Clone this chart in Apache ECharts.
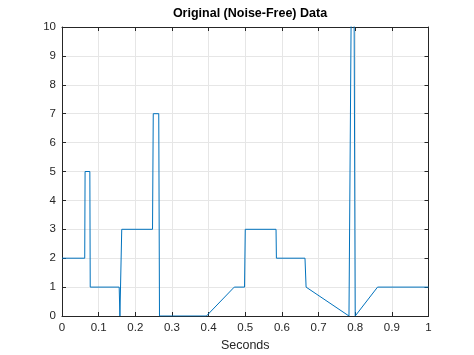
<!DOCTYPE html>
<html><head><meta charset="utf-8">
<script src="https://cdn.jsdelivr.net/npm/echarts@6/dist/echarts.min.js"></script>
<style>html,body{margin:0;padding:0;background:#fff}#c{width:474px;height:355px}</style>
</head><body><div id="c"></div>
<script>
const xValues = [0, 0.062, 0.063, 0.076, 0.077, 0.156, 0.158, 0.161, 0.163, 0.247, 0.249, 0.264, 0.266, 0.394, 0.470, 0.498, 0.500, 0.584, 0.585, 0.663, 0.666, 0.783, 0.789, 0.797, 0.800, 0.861, 1.0];
const yValues = [2, 2, 5, 5, 1, 1, 0, 0, 3, 3, 7, 7, 0, 0, 1, 1, 3, 3, 2, 2, 1, 0, 10.5, 10.5, 0, 1, 1];
const xTicks = [0, 0.1, 0.2, 0.3, 0.4, 0.5, 0.6, 0.7, 0.8, 0.9, 1];
const yTicks = [0, 1, 2, 3, 4, 5, 6, 7, 8, 9, 10];
const titleText = 'Original (Noise-Free) Data';
const xLabel = 'Seconds';

const font = 'Liberation Sans, Arial, Helvetica, sans-serif';
const axisCol = '#262626';
const chart = echarts.init(document.getElementById('c'), null, {renderer: 'canvas'});
const fmt = v => String(Math.round(v * 10) / 10);
const baseX = {
  type: 'value', min: 0, max: 1, interval: 0.1,
  axisLine: {show: true, onZero: false, lineStyle: {color: axisCol, width: 1}},
  axisTick: {show: true, inside: true, length: 4, lineStyle: {color: axisCol}},
  splitLine: {show: false}
};
const baseY = {
  type: 'value', min: 0, max: 10, interval: 1,
  axisLine: {show: true, onZero: false, lineStyle: {color: axisCol, width: 1}},
  axisTick: {show: true, inside: true, length: 4, lineStyle: {color: axisCol}},
  splitLine: {show: false}
};
chart.setOption({
  animation: false,
  title: {text: titleText, left: 245, top: 2, textAlign: 'center',
    textStyle: {fontFamily: font, fontSize: 12.5, fontWeight: 'bold', color: '#000'}},
  grid: {left: 62, right: 45.5, top: 27, bottom: 39, containLabel: false, outerBoundsMode: 'none'},
  xAxis: [
    Object.assign({}, baseX, {position: 'bottom',
      name: xLabel, nameLocation: 'middle', nameGap: 18,
      nameTextStyle: {fontFamily: font, fontSize: 12.5, color: axisCol},
      splitLine: {show: true, lineStyle: {color: '#e6e6e6', width: 1}},
      axisLabel: {fontFamily: font, fontSize: 11.5, color: axisCol, margin: 6, formatter: fmt}}),
    Object.assign({}, baseX, {position: 'top', axisLabel: {show: false}})
  ],
  yAxis: [
    Object.assign({}, baseY, {position: 'left',
      splitLine: {show: true, lineStyle: {color: '#e6e6e6', width: 1}},
      axisLabel: {fontFamily: font, fontSize: 11.5, color: axisCol, margin: 6}}),
    Object.assign({}, baseY, {position: 'right', axisLabel: {show: false}})
  ],
  series: [{
    type: 'line', xAxisIndex: 0, yAxisIndex: 0,
    data: xValues.map((x, i) => [x, yValues[i]]),
    showSymbol: false, symbol: 'none', clip: true,
    lineStyle: {color: '#0072BD', width: 1}
  }]
});
</script></body></html>
